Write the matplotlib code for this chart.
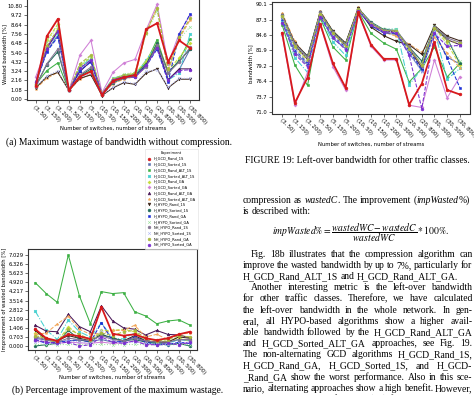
import matplotlib
matplotlib.use("Agg")
import matplotlib.pyplot as plt
from matplotlib.lines import Line2D
import numpy as np

# ---------------- data ----------------
categories = ["(3, 50)", "(3, 150)", "(3, 200)", "(5, 50)", "(5, 150)", "(5, 200)",
              "(10, 50)", "(10, 150)", "(10, 200)", "(20, 300)", "(20, 500)", "(20, 800)",
              "(30, 300)", "(30, 500)", "(30, 800)"]

experiments = ["H_GCD_Rand_1S", "H_GCD_Sorted_1S", "H_GCD_Rand_ALT_1S", "H_GCD_Sorted_ALT_1S",
               "H_GCD_Rand_GA", "H_GCD_Sorted_GA", "H_GCD_Rand_ALT_GA", "H_GCD_Sorted_ALT_GA",
               "H_HYPO_Rand_1S", "H_HYPO_Sorted_1S", "H_HYPO_Rand_GA", "H_HYPO_Sorted_GA",
               "NH_HYPO_Rand_1S", "NH_HYPO_Sorted_1S", "NH_HYPO_Rand_GA", "NH_HYPO_Sorted_GA"]

# (a) maximum wasted bandwidth without compression [%]
wasted_bw = [
    [1.5, 7.3, 9.3, 1.0, 2.6, 3.2, 0.45, 2.1, 2.5, 2.8, 8.1, 8.8, 4.3, 6.8, 5.9],
    [1.8, 5.6, 7.4, 1.0, 3.5, 4.6, 0.6, 2.3, 2.7, 2.9, 4.2, 6.0, 2.3, 3.4, 5.8],
    [1.7, 3.3, 4.2, 1.0, 2.6, 3.3, 0.5, 2.0, 2.5, 2.9, 4.2, 6.9, 3.0, 4.5, 7.0],
    [1.9, 6.0, 7.6, 1.0, 3.6, 4.8, 0.6, 2.4, 2.8, 2.8, 4.5, 6.4, 2.2, 3.0, 7.6],
    [1.8, 6.8, 8.7, 1.0, 3.8, 4.9, 0.5, 2.3, 2.7, 3.0, 4.4, 6.5, 3.3, 4.8, 6.5],
    [2.6, 6.0, 8.0, 1.0, 5.1, 6.8, 0.75, 3.1, 4.2, 4.6, 8.0, 11.0, 4.1, 7.6, 9.8],
    [2.0, 5.9, 7.9, 1.0, 3.2, 4.4, 0.6, 2.2, 2.6, 2.7, 4.0, 6.2, 2.2, 3.5, 3.5],
    [1.2, 2.4, 3.1, 1.0, 2.3, 2.9, 0.5, 1.8, 2.3, 2.6, 7.8, 10.5, 3.2, 7.0, 9.2],
    [1.3, 2.6, 3.1, 1.0, 2.4, 2.8, 0.4, 1.3, 1.9, 1.7, 3.0, 3.5, 1.3, 2.3, 2.3],
    [1.6, 4.0, 5.5, 1.0, 2.7, 3.5, 0.5, 1.9, 2.4, 2.7, 3.9, 6.5, 3.1, 4.4, 5.8],
    [1.8, 5.5, 7.2, 1.0, 3.3, 4.3, 0.5, 2.0, 2.5, 2.6, 3.8, 5.8, 2.0, 7.5, 9.9],
    [1.9, 6.6, 8.5, 1.0, 3.9, 5.0, 0.6, 2.4, 2.9, 3.1, 7.6, 10.2, 3.3, 6.9, 8.4],
    [1.4, 4.1, 5.8, 1.0, 2.8, 3.7, 0.5, 2.0, 2.4, 2.6, 3.7, 6.3, 3.0, 4.3, 6.0],
    [1.5, 2.7, 3.3, 1.0, 2.5, 3.0, 0.45, 1.4, 2.0, 1.8, 3.2, 3.4, 1.4, 2.4, 2.4],
    [1.8, 6.2, 8.1, 1.0, 4.1, 5.1, 0.6, 2.3, 2.8, 3.0, 7.7, 10.6, 3.5, 7.2, 9.4],
    [2.0, 5.8, 7.9, 1.0, 3.6, 4.5, 0.6, 2.2, 2.6, 2.5, 3.9, 5.9, 2.2, 3.3, 3.4],
]

# (b) improvement of wasted bandwidth [%]
improvement = [
    [1.30, 0.60, 0.40, 0.90, 0.75, 0.55, 3.00, 0.95, 0.80, 0.90, 0.60, 0.45, 0.60, 0.90, 1.10],
    [0.60, 0.45, 0.30, 0.40, 0.45, 0.35, 0.50, 0.30, 0.35, 0.70, 0.30, 0.30, 0.25, 0.50, 0.40],
    [4.90, 4.05, 3.37, 7.03, 3.88, 1.72, 4.20, 4.05, 4.12, 2.65, 2.32, 1.72, 1.93, 2.02, 1.62],
    [2.70, 1.25, 0.50, 2.00, 1.10, 0.70, 1.80, 0.60, 0.55, 1.00, 0.35, 0.20, 0.20, 0.50, 0.45],
    [1.00, 0.45, 0.30, 1.50, 0.80, 0.40, 1.20, 1.20, 1.30, 1.10, 0.50, 0.30, 0.40, 0.60, 0.40],
    [0.40, 0.30, 0.20, 0.30, 0.25, 0.20, 0.30, 0.20, 0.25, 0.40, 0.15, 0.10, 0.15, 0.20, 0.20],
    [1.60, 1.15, 1.10, 2.45, 1.50, 1.10, 3.10, 1.95, 1.40, 1.30, 0.85, 1.20, 0.90, 0.85, 0.65],
    [0.90, 1.00, 1.70, 2.30, 1.30, 0.90, 1.00, 1.20, 1.20, 1.60, 0.70, 0.90, 0.50, 0.90, 1.00],
    [1.20, 0.50, 0.40, 0.80, 0.60, 0.40, 0.90, 0.60, 0.40, 0.80, 0.40, 0.30, 0.30, 0.70, 0.60],
    [0.00, 0.10, 0.20, 1.20, 0.50, 0.30, 0.90, 0.60, 0.40, 0.50, 0.30, 0.20, 0.10, 0.20, 0.00],
    [0.50, 0.20, 0.30, 0.40, 0.50, 0.30, 1.80, 0.40, 0.30, 0.70, 0.30, 0.10, 0.10, 0.30, 0.20],
    [0.12, 0.10, 0.10, 0.12, 0.10, 0.10, 0.12, 0.10, 0.10, 0.12, 0.10, 0.10, 0.10, 0.10, 0.10],
    [0.70, 0.50, 0.30, 0.60, 0.50, 0.40, 0.80, 0.50, 0.40, 0.60, 0.40, 0.30, 0.30, 0.50, 0.50],
    [0.30, 0.20, 0.15, 0.40, 0.30, 0.20, 1.20, 0.40, 0.20, 0.30, 0.20, 0.15, 0.15, 0.25, 0.30],
    [0.80, 0.60, 0.30, 1.30, 0.90, 0.50, 1.00, 0.80, 1.10, 1.20, 0.60, 0.40, 0.50, 0.80, 0.70],
    [0.50, 0.30, 0.20, 0.30, 0.00, 0.10, 0.70, 0.30, 0.20, 0.40, 0.10, 0.10, 0.20, 0.10, 0.30],
]

# Fig. 19 left-over bandwidth [%]
leftover_bw = [
    [85.0, 72.6, 77.1, 86.6, 79.6, 75.3, 88.6, 82.9, 80.4, 80.4, 72.3, 76.0, 83.3, 74.9, 74.1],
    [87.0, 81.6, 79.3, 88.0, 84.0, 82.2, 88.9, 86.2, 85.0, 84.7, 81.4, 78.3, 85.0, 80.7, 79.5],
    [86.4, 79.3, 75.7, 87.6, 82.5, 80.2, 88.8, 84.9, 83.2, 82.1, 76.3, 78.7, 82.5, 77.2, 79.6],
    [87.3, 80.6, 78.0, 87.9, 83.4, 81.0, 89.0, 86.6, 85.6, 85.7, 75.8, 78.6, 85.5, 76.8, 78.7],
    [87.8, 82.4, 79.8, 88.3, 84.8, 82.6, 89.2, 86.4, 85.1, 84.8, 82.0, 78.9, 85.8, 83.1, 79.3],
    [84.6, 72.2, 78.0, 86.4, 79.0, 74.9, 88.5, 82.6, 80.2, 80.2, 72.2, 71.8, 80.2, 73.5, 77.2],
    [88.0, 82.8, 80.3, 88.5, 85.0, 82.8, 89.3, 86.6, 85.3, 85.2, 82.3, 78.8, 85.8, 83.8, 82.9],
    [88.5, 83.5, 80.6, 88.9, 85.3, 83.1, 89.6, 86.5, 85.1, 84.4, 83.0, 81.6, 84.2, 81.4, 78.8],
    [88.2, 83.2, 80.9, 88.7, 85.3, 83.2, 89.4, 86.0, 84.5, 83.5, 82.9, 81.2, 86.3, 84.4, 83.6],
    [88.1, 83.0, 80.8, 88.6, 85.2, 83.0, 89.3, 86.9, 85.6, 85.4, 82.5, 80.0, 86.0, 84.0, 79.6],
    [87.5, 82.0, 79.6, 88.2, 84.5, 82.4, 89.0, 86.3, 85.0, 84.9, 81.8, 78.5, 85.2, 80.5, 75.3],
    [88.0, 82.9, 80.5, 88.5, 85.1, 83.0, 89.2, 86.8, 85.7, 85.6, 82.4, 79.5, 86.2, 84.0, 80.0],
    [88.1, 83.1, 80.7, 88.6, 85.1, 82.9, 89.3, 86.7, 85.5, 85.4, 82.6, 79.2, 86.1, 84.1, 83.3],
    [87.6, 82.1, 79.9, 88.2, 84.6, 82.5, 89.1, 86.5, 85.3, 85.2, 81.6, 78.0, 85.4, 82.8, 82.6],
    [87.9, 82.6, 80.2, 88.4, 84.9, 82.7, 89.2, 86.6, 85.4, 85.3, 82.2, 79.3, 85.9, 83.6, 83.2],
    [86.8, 81.2, 79.0, 87.8, 84.2, 82.0, 88.9, 86.4, 85.2, 85.0, 81.1, 71.6, 84.9, 82.6, 82.8],
]

yticks_a = ["0.00", "1.08", "2.16", "3.24", "4.32", "5.40", "6.48", "7.56", "8.64", "9.72", "10.80"]
yticks_b = ["0.000", "0.703", "1.406", "2.109", "2.812", "3.514", "4.217", "4.920", "5.623", "6.326", "7.029"]
yticks_c = ["71.0", "73.7", "76.4", "79.2", "81.9", "84.6", "87.3", "90.1"]

# ---------------- styles ----------------
colors = ["#d7191c", "#5b6fb0", "#3cb043", "#45d0d0", "#c5dc3a", "#cf7fd6", "#4a1858", "#f2a65a",
          "#3b2418", "#1f6b58", "#1c2fd6", "#9be39b", "#857592", "#b3bbf5", "#a9b93e", "#7b2fd0"]
markers = ["o", "s", "s", "X", "P", "P", "^", "*", "v", "o", "s", "x", "o", "x", "o", "o"]
lstyles = ["-", "-", "-", "-.", "--", "-", "-", "--", "-", "-", "--", ":", "-", ":", "--", "--"]

W, H = 474, 395
fig = plt.figure(figsize=(4.74, 3.95), dpi=100)
renderer = fig.canvas.get_renderer()


def box(l, t, r, b):
    return [l / W, 1 - b / H, (r - l) / W, (b - t) / H]


def fx(x):
    return x / W


def fy(y):
    return 1 - y / H


TICK_FS = 3.8
LAB_FS = 3.8


def style_axes(ax, ylabels, ylabel, xlabel, ylabel_xy, xlabel_y, xlim):
    x = np.arange(len(categories))
    ax.set_xticks(x)
    ax.set_xticklabels(categories, rotation=-45, ha="left", va="top",
                       rotation_mode="anchor", fontsize=TICK_FS)
    yv = [float(v) for v in ylabels]
    ax.set_yticks(yv)
    ax.set_yticklabels(ylabels, fontsize=TICK_FS)
    ax.tick_params(length=2, width=0.5, pad=1.2, color="#333333")
    for s in ax.spines.values():
        s.set_linewidth(0.8)
        s.set_color("#333333")
    ax.set_xlim(*xlim)
    ax.set_ylabel(ylabel, fontsize=LAB_FS)
    ax.yaxis.set_label_coords(*ylabel_xy)
    ax.set_xlabel(xlabel, fontsize=LAB_FS)
    ax.xaxis.set_label_coords(0.5, xlabel_y)
    ax.xaxis.label.set_va("center")
    ax.yaxis.label.set_va("center")


def plot_series(ax, data):
    x = np.arange(len(categories))
    order = list(range(1, len(data))) + [0]
    for i in order:
        lw = 1.3 if i == 0 else 0.75
        ax.plot(x, data[i], color=colors[i], marker=markers[i], linestyle=lstyles[i],
                lw=lw, markersize=2.0, markeredgewidth=0.4, zorder=3 if i == 0 else 2)


xlab = "Number of switches, number of streams"

# (a)
ax_a = fig.add_axes(box(27, -2, 199, 100))
plot_series(ax_a, wasted_bw)
ax_a.set_ylim(-1 / 8.611, 10.80 + 8 / 8.611)
style_axes(ax_a, yticks_a, "Wasted bandwidth [%]", xlab, (-0.128, 0.45), -0.275, (-0.8, 14.8))

# (b)
ax_b = fig.add_axes(box(28, 249, 197, 350))
plot_series(ax_b, improvement)
ax_b.set_ylim(-4 / 12.946, 7.029 + 6 / 12.946)
style_axes(ax_b, yticks_b, "Improvement of wasted bandwidth [%]", xlab, (-0.14, 0.5), -0.267,
           (-0.65, 14.65))

# Fig. 19
ax_c = fig.add_axes(box(272, 2, 470, 113.5))
plot_series(ax_c, leftover_bw)
ax_c.set_ylim(71.0 - 1.5 / 5.654, 90.1 + 2 / 5.654)
style_axes(ax_c, yticks_c, "bandwidth [%]", xlab, (-0.105, 0.45), -0.274, (-0.8, 14.8))

# legend
handles = [Line2D([], [], color=colors[i], marker=markers[i], linestyle="", markersize=2.0,
                  markeredgewidth=0.4) for i in range(len(experiments))]
leg = fig.legend(handles, experiments, title="Experiment", loc="lower right",
                 bbox_to_anchor=(fx(198), fy(249)), fontsize=2.6, title_fontsize=2.6,
                 frameon=True, fancybox=False, labelspacing=0.48, handlelength=1.0,
                 handletextpad=0.9, borderpad=0.6, borderaxespad=0)
leg.get_frame().set_edgecolor("#dddddd")
leg.get_frame().set_linewidth(0.5)

# ---------------- captions / body text ----------------
SERIF = "Liberation Serif"
CAP_FS = 6.9
fig.text(fx(119.5), fy(142), "(a) Maximum wastage of bandwidth without compression.",
         fontsize=CAP_FS, family=SERIF, ha="center", va="center")
fig.text(fx(118), fy(390), "(b) Percentage improvement of the maximum wastage.",
         fontsize=CAP_FS, family=SERIF, ha="center", va="center")
fig.text(fx(357), fy(161), "FIGURE 19: Left-over bandwidth for other traffic classes.",
         fontsize=CAP_FS, family=SERIF, ha="center", va="center")

TXT_FS = 6.9
X0, X1 = 243.0, 472.5


def measure(s, italic=False):
    t = fig.text(0, 0, s, fontsize=TXT_FS, family=SERIF, style="italic" if italic else "normal")
    w = t.get_window_extent(renderer).width
    t.remove()
    return w


SPACE = measure("a a") - measure("aa")


def draw_line(line, y, justify=True, indent=0.0):
    words = []
    for w in line.split(" "):
        parts = w.split("*")
        words.append([(p, i % 2 == 1) for i, p in enumerate(parts) if p])
    widths = [sum(measure(s, it) for s, it in segs) for segs in words]
    x0 = X0 + indent
    if justify and len(words) > 1:
        gap = (X1 - x0 - sum(widths)) / (len(words) - 1)
    else:
        gap = SPACE
    x = x0
    for segs, wd in zip(words, widths):
        for s, it in segs:
            fig.text(fx(x), fy(y), s, fontsize=TXT_FS, family=SERIF,
                     style="italic" if it else "normal", ha="left", va="baseline")
            x += measure(s, it)
        x += gap


base = 2.6
draw_line("compression as *wastedC*. The improvement (*impWasted*%)", 200 + base, justify=False)
draw_line("is described with:", 211 + base, justify=False)

fig.text(fx(361), fy(233),
         r"$\mathit{impWasted}\% = \dfrac{\mathit{wastedWC} - \mathit{wastedC}}{\mathit{wastedWC}} * 100\%.$",
         fontsize=TXT_FS, math_fontfamily="stix", ha="center", va="center")

body = [
    ("Fig. 18b illustrates that the compression algorithm can", True, 8),
    ("improve the wasted bandwidth by up to 7%, particularly for", True, 0),
    ("H_GCD_Rand_ALT_1S and H_GCD_Rand_ALT_GA.", False, 0),
    ("Another interesting metric is the left-over bandwidth", True, 8),
    ("for other traffic classes. Therefore, we have calculated", True, 0),
    ("the left-over bandwidth in the whole network. In gen-", True, 0),
    ("eral, all HYPO-based algorithms show a higher avail-", True, 0),
    ("able bandwidth followed by the H_GCD_Rand_ALT_GA", True, 0),
    ("and H_GCD_Sorted_ALT_GA approaches, see Fig. 19.", True, 0),
    ("The non-alternating GCD algorithms H_GCD_Rand_1S,", True, 0),
    ("H_GCD_Rand_GA, H_GCD_Sorted_1S, and H_GCD-", True, 0),
    ("_Rand_GA show the worst performance. Also in this sce-", True, 0),
    ("nario, alternating approaches show a high benefit. However,", True, 0),
    ("with a higher number of critical (ST) flows, the alternating", True, 0),
]
y = 254.0
for text, just, ind in body:
    draw_line(text, y + base, justify=just, indent=ind)
    y += 11.2

fig.savefig("out.png", dpi=100)
